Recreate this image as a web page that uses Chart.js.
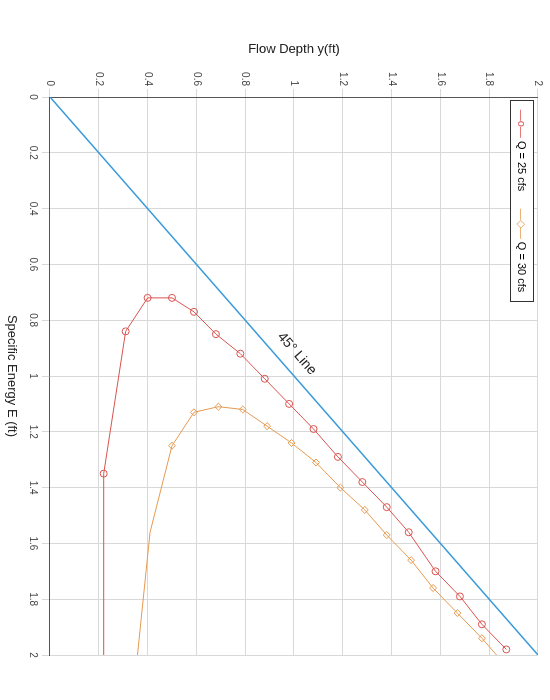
<!DOCTYPE html>
<html><head><meta charset="utf-8">
<script src="https://cdn.jsdelivr.net/npm/chart.js@4"></script>
<style>
body{margin:0;width:550px;height:700px;background:#fff;overflow:hidden;font-family:Arial,"Liberation Sans",sans-serif}
#wrap{position:absolute;left:0;top:0;width:700px;height:550px;transform-origin:0 0;transform:translate(550px,0) rotate(90deg)}
#leg{position:absolute;left:100px;top:16px;width:200px;height:22px;border:1px solid #333;background:#fff;font-size:11px;display:flex;align-items:center;justify-content:space-around}
</style></head><body>
<div id="wrap"><canvas id="c" width="700" height="550"></canvas>
<div id="leg"><span><span style="color:#d9534f">—o—</span> Q = 25 cfs</span><span><span style="color:#e69a50">—◇—</span> Q = 30 cfs</span></div></div>
<script>
const lineE=[0,2], lineY=[0,2];
const q25E=[2.0,1.35,0.84,0.72,0.72,0.77,0.85,0.92,1.01,1.10,1.19,1.29,1.38,1.47,1.56,1.70,1.79,1.89,1.98];
const q25Y=[0.22,0.22,0.31,0.40,0.50,0.59,0.68,0.78,0.88,0.98,1.08,1.18,1.28,1.38,1.47,1.58,1.68,1.77,1.87];
const q30E=[2.03,1.56,1.25,1.13,1.11,1.12,1.18,1.24,1.31,1.40,1.48,1.57,1.66,1.76,1.85,1.94,2.03];
const q30Y=[0.355,0.41,0.50,0.59,0.69,0.79,0.89,0.99,1.09,1.19,1.29,1.38,1.48,1.57,1.67,1.77,1.86];
const ticks=[0,0.2,0.4,0.6,0.8,1,1.2,1.4,1.6,1.8,2];
const pts=(e,y)=>e.map((v,i)=>({x:v,y:y[i]}));
const fmt=v=>String(Math.round(v*10)/10);
const label45={id:'l45',afterDatasetsDraw(ch){const c=ch.ctx,x=ch.scales.x,y=ch.scales.y;
 const px=x.getPixelForValue(0.86),py=y.getPixelForValue(0.93);
 const ang=Math.atan2(y.getPixelForValue(1)-y.getPixelForValue(0),x.getPixelForValue(1)-x.getPixelForValue(0));
 c.save();c.translate(px,py);c.rotate(ang);c.font='14px Arial';c.fillStyle='#222';c.fillText('45° Line',0,0);c.restore();}};
new Chart(document.getElementById('c'),{type:'scatter',
 data:{datasets:[
  {data:pts(lineE,lineY),showLine:true,borderColor:'#3a9ad9',borderWidth:1.5,pointRadius:0},
  {data:pts(q25E,q25Y),showLine:true,borderColor:'#d9534f',borderWidth:1,pointRadius:q25E.map((v,i)=>i==0?0:3.5),pointBackgroundColor:'rgba(0,0,0,0)',pointBorderColor:'#d9534f'},
  {data:pts(q30E,q30Y),showLine:true,borderColor:'#e69a50',borderWidth:1,pointStyle:'rectRot',pointRadius:q30E.map((v,i)=>i<2?0:3.5),pointBackgroundColor:'rgba(0,0,0,0)',pointBorderColor:'#e69a50'}]},
 options:{animation:false,responsive:false,layout:{padding:{top:12,right:45,left:38}},
  plugins:{legend:{display:false},tooltip:{enabled:false}},
  scales:{
   x:{type:'linear',min:0,max:2,afterBuildTicks:s=>{s.ticks=ticks.map(v=>({value:v}))},afterFit:s=>{s.height=50},
      ticks:{font:{size:10},color:'#444',maxRotation:0,callback:fmt},grid:{color:'#d8d8d8'},border:{color:'#555'},
      title:{display:true,text:'Specific Energy E (ft)',font:{size:13},color:'#222'}},
   y:{type:'linear',min:0,max:2,afterBuildTicks:s=>{s.ticks=ticks.map(v=>({value:v}))},afterFit:s=>{s.width=59},
      ticks:{font:{size:10},color:'#444',callback:fmt},grid:{color:'#d8d8d8'},border:{color:'#555'},
      title:{display:true,text:'Flow Depth y(ft)',font:{size:13},color:'#222'}}}},
 plugins:[label45]});
</script></body></html>
